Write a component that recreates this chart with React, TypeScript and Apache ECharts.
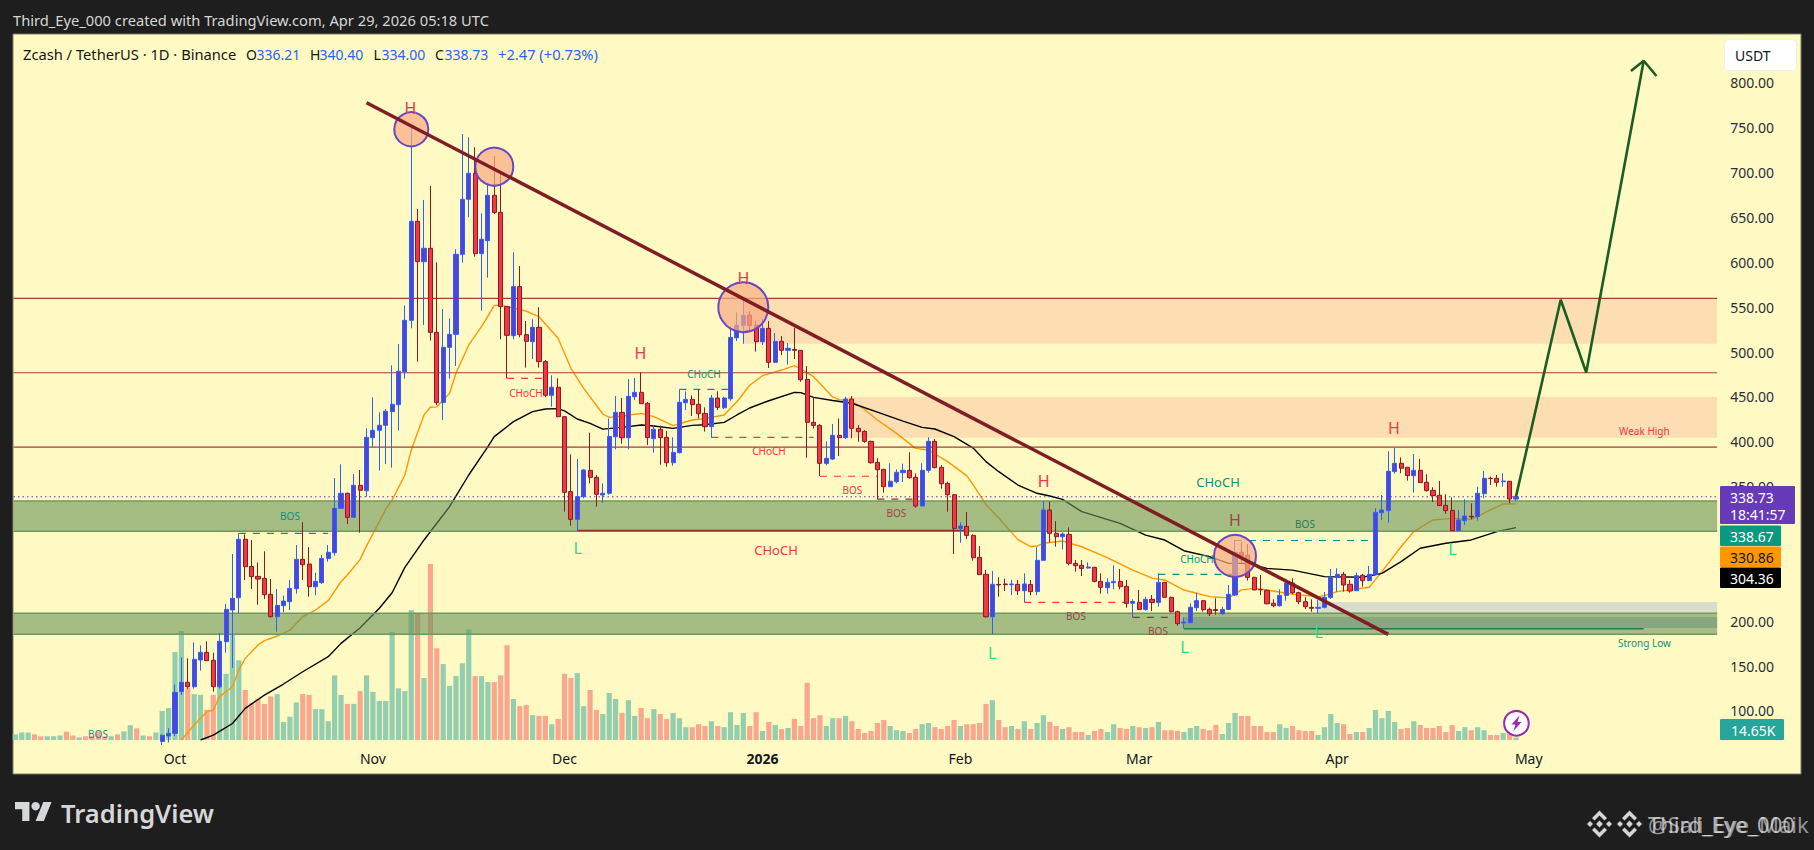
import React, { useEffect, useRef } from "react";
import * as echarts from "echarts";

// Bar numbering: bar 0 is 1 Oct 2025. The picture starts 25 bars earlier.
const FIRST_BAR = -25;
const LAST_SLOT = 241;
const CANDLE_FIRST_BAR = -2;

const openPrices = [
66,72,
75,121.5,131.9,127,156.8,165.3,156.4,127,177.2,212.5,
226.2,291.3,261,250,247.8,230,205,217.3,221.8,236.3,
269,263.8,238.5,243,270,276.4,325.8,342.6,315.8,351.5,
345.5,404.6,412.8,418.4,433.6,441.4,478.2,535.4,645.8,600.8,
615.7,522,443.7,505.3,519.8,609,670.3,699.3,609.8,624.2,
674.8,655.8,550.7,518.3,573,519.5,511.7,527.6,489.4,451.8,
460.8,428,344.5,313.6,338.9,368.2,360.4,340.7,342.6,405.7,
432.8,404.6,450.3,455.1,442.9,403.5,413.9,405,376.7,387.9,
443.6,447.3,441.8,431.7,416.9,448.8,438,448,516,529.8,
541,529.8,511.6,526.5,488.6,512,502,503,502,469.6,
421.7,418.3,376,380.8,407.2,404.6,447.7,415,411.6,400.5,
377,369.3,350,355.6,365.6,368.2,360.4,328.4,368.2,400.5,
371.5,353.7,341,303.5,305.8,295.7,271.2,252.3,205,241,
241.5,240.7,241.1,234,241,233,267.9,324,298,294.2,
296.8,264.5,262.3,259.3,260,244.4,237.4,243,244.4,238.9,
220,221,213.2,224.4,221,243.3,226.6,210.6,198,198.4,
215.1,222.9,213.2,213,208.4,213.2,229.2,276.8,273.4,248.9,
235.5,234.4,220,217.3,228.8,242.6,231.8,221.8,215.5,214.4,
215.5,226.3,248.6,252.3,241.2,234,251.2,245.2,251.9,321,
323.3,366.8,376,371.6,362.3,368.2,354.9,345.9,340.4,329.2,
323.6,301,312.1,317,316.6,342.2,359.3,359.3,355.6,356,
336.21,
];
const highPrices = [
74,80.6,
129.6,159.7,158.6,176.4,173,177.6,165,186.5,219.2,274.9,
298,296.8,290.5,265.6,278,247,235.9,228.5,245.9,285,
310.6,282.7,254,273.8,285,359.6,375,343.3,364,368.6,
415,449.6,432.9,436.6,485.3,509,552,751.3,659.5,669.6,
685.2,600,548,537.7,614.6,743.1,739.4,728.3,654.7,686.3,
718.6,701.2,550.7,611.2,596,534.7,536.6,549.9,491.2,474.1,
470.8,428.8,386,380.8,369.7,410.2,363,353.7,426,451,
448.8,470,471.1,477.4,444.4,418,418,412,405,458.5,
456.2,451.8,458.5,438.4,452.2,456.2,450.3,528.3,544.3,559.9,
545.4,534.3,536.9,534.6,521.3,517.9,510.1,527.2,502.3,484.5,
449.9,419.8,400.5,419.8,426,450.3,451,418.7,413,401.3,
381.6,370,376,369.3,375.6,388.3,364.8,376,405,403,
374,355.6,341.8,310.2,321.7,296.8,283.8,257,256,249,
247.4,246,246,253.4,246,282.4,334,333.3,311.5,299,
304.6,268.2,268.2,265.6,260.8,253.4,247.8,262.3,258.2,245.9,
224.4,234.8,227.3,229.2,253.4,244,227.3,211.7,204.3,220,
231.8,223.6,215.1,225.5,216.2,240.3,290.5,287.9,286,249.6,
251.5,235.5,224.4,235.5,246,247.8,232.9,226.6,224.4,223.6,
232.6,258.2,259,255,246,254.2,252.7,261.6,325.9,340.7,
389.4,393.5,382.7,371.6,386.4,380.9,363.8,349.3,356.4,341.5,
338.1,324,335.9,331.4,350,367.5,361.2,363,364.9,356.3,
340.4,
];
const lowPrices = [
62,65,
72,117.7,124.8,124.8,144.9,156,121.5,125,165,148,
208.8,246,235.9,218.4,224.8,204.3,188.3,210.3,212.5,230.7,
246,227.4,229,241.5,266.4,273,325.8,308.4,315,298.7,
338.8,393.9,367.9,375.3,371.2,412.5,470.4,526.5,489.4,530.2,
512.8,441,424.3,470.4,484.5,599.7,650.3,606.4,546.2,583,
654,514.3,470.8,514.3,516.5,482.7,492.3,482.7,449.6,439.2,
427.3,322.2,306.5,301,337,353.7,327.7,332,341,391.6,
397.9,391.6,446.6,442.5,396.4,387.9,374.5,372.3,373.4,387.1,
435.4,428.7,426.1,411.3,404.6,435.4,436.5,445.8,512.4,509.4,
523.1,500.5,507.9,482.3,487.8,496.7,486,492.3,467,382.3,
414.6,361.9,373.8,379.7,384.2,403,404,400.1,399,375.6,
335.9,343.3,350,353.7,355.2,358.9,326.6,328.4,365.6,370.4,
347.8,322.1,274.9,287.6,291.6,267.5,251.9,204,185.7,227.4,
233.7,229.2,229.2,221,229,229,267.9,287.6,283.1,280.1,
262.3,255.2,250.4,258.9,243.3,230.7,230.7,235.5,235.5,215.1,
204.3,212.5,211.7,211.4,216.2,226.6,209.9,195,192,198.4,
211.4,210.6,205.8,207.3,206.9,212.5,228.1,265.2,245.2,234.8,
229.2,218.8,215.5,216.2,222.9,230.3,219,213.6,210.6,208.8,
214.4,224.8,233,233,232,234,238.6,245.2,251.9,312.9,
309.9,364.5,364.9,356.7,343.3,354.5,344.5,332.9,328.9,319.6,
301,301,307.3,313.6,312.1,337,351.9,350,350,331.5,
334,
];
const closePrices = [
72.8,75,
120.7,131.9,127,157.5,165.3,156,127,177.6,213.2,225.5,
291.3,260.8,249.7,247,229.6,205,217.7,222.5,236.6,269,
263,238.5,244.4,270,276.8,325.8,342.6,315.8,351.5,346,
405,412.8,418.4,434,441.8,478.6,535.4,645.8,600.8,615.7,
522,443.7,505.3,519.8,609,670.3,699.3,609.8,625.7,674.8,
655.8,550.7,518.7,573,519.5,512,527.6,489.4,451.8,460.8,
428,343.7,313.6,338.9,368.6,360.4,341.5,342.6,406,432.8,
404.6,450.7,455.1,442.5,404.6,413.9,404.6,376.7,388.2,444,
447.3,441.4,431.3,416.9,448.8,438.4,448.8,516.4,529.8,541,
529.8,511.6,526.5,488.6,512,502,504.2,502,469.2,421.7,
418.3,376,381.6,407.2,404.6,447.7,415,411.3,400.5,376.7,
368.9,350,356,366,368.2,360,328.4,368.2,400.5,371.2,
353.3,341,303.5,306.1,295.7,270.8,251.9,205,241.1,240.4,
240.7,241.5,234,241.5,233,267.9,324,298,294.3,297.2,
264.5,261.9,258.9,260.4,244.4,237.8,243.3,244.4,238.5,219.9,
222,213.2,224.4,221,243.3,226.6,210.6,197.3,199,215.5,
222.9,212.9,208.4,212,213.2,230,276.8,272.7,248.9,234.8,
235,219.5,217.3,228.8,242.2,231.8,221.8,216.2,214.4,215.5,
226.6,249,252.3,240.4,233.7,250.8,245.2,252.3,321.4,324,
367.1,376,370.5,362.3,368.2,354.5,345.6,340,328.9,323.3,
301,312.9,317.3,316.2,342.6,359.3,359,354.9,356.3,336.21,
338.73,
];

// Volume bars from bar -25 to bar 210 (relative units, the axis is hidden)
const volumes = [
7.5,10,10,7.5,5,5,5,6,11,6,3.5,5,5,11,5,5,7.5,11.5,19.5,15.5,6,5,10,
38.6,42.5,
117,145,69,61,60,40,60,72,88,140,
106,66.5,49,55,48,58,61,24,31,50,
61,60,41,41,25,86,60,48,48,65,
86,64,52,52,143.6,68.7,65,173,168,82.5,
234,122,101,72,85,102,147,85,85,77,
77,86,126,54.5,45,46.5,33,32,32,21,
28,88,82.5,89,45,66.5,40,34.6,62.5,54.5,
36,53,32,42.5,29,41,34.6,28,36,29,
17,17,21,18.6,25,18.6,17,37,20,36,
18.6,37,12,24,20,14.6,16,28,18.6,76,
29,33,18.6,29,29,32,25,14.6,9.3,12,
22.6,26.6,18.6,13,12,9.3,14.6,21,22.6,17,
14.6,18.6,26.6,18.6,21,21,22.6,48,53,26.6,
17,18.6,14.6,25,14.6,22.6,33,24,18.6,14.6,
17,10.6,10.6,6.6,12,14.6,10.6,21,16,14.6,
18.6,17,16,17,24,13,13,12,10.6,16,
18.6,14.6,13,20,8,22.6,36,32,32,18.6,
18.6,10.6,10.6,21,16,18.6,13,12,12,6.6,
17,34.6,22.6,21,8,10.6,10.6,16,40,29,
38.6,24,14.6,16,25,20,16,16,18.6,10.6,
20,12,17,13,17,13,6.6,6.6,9.3,8,
3.3,
];
const earlyVolumeUp = [1,1,1,0,0,1,1,1,0,0,1,0,0,0,0,1,0,1,1,0,1,0,1];

const orangeBars = [1,3,5,6,7,9,10,11,13,14,16,18,20,22,24,26,27,29,30,32,33,34,36,37,39,40,41,43,44,46,48,50,51,55,57,60,62,64,67,68,70,73,75,78,81,83,86,88,90,92,95,97,98,100,103,104,106,108,110,113,116,118,121,124,125,127,129,132,134,135,136,139,142,146,150,153,155,158,162,165,167,169,171,175,179,180,182,187,189,192,194,197,200,203,206,208,210];
const orangeValues = [67.6,84.3,99,101,116,127,145.6,158.6,173.5,178.3,183.5,190,205,212.5,222.9,244,251.5,269,284,311,325,335,363,391,430,438.5,439,454,476.4,508,528.4,551.8,552.5,545.8,539.5,515.4,482,459.6,431,427.3,428.8,431.7,428,418,424.3,426,429.9,444.7,463,473.7,480,484.9,481,472.6,450,447,445,436,424.3,409.4,392.7,390.9,377.9,362,352,330,315,291,283.1,283.8,287,289.4,283,271,257,248,246,234.8,227.4,226,235,236.6,234.8,230,227.4,228.5,233,237.8,255.3,283,300,312.9,314.7,313.6,324,330.7,330.86];
const blackBars = [4,6,9,11,14,17,20,24,26,29,32,34,36,39,41,43,46,49,50,53,56,58,60,61,63,65,67,70,73,75,78,81,83,86,88,90,93,97,98,100,103,106,110,114,117,119,122,125,127,129,132,135,137,139,142,148,152,155,158,162,165,168,171,175,180,186,189,192,195,199,203,207,210];
const blackValues = [67.6,73,86,102.9,117.7,130,143.7,160.5,175.3,192.8,214.4,231.8,260,290.6,309.2,327.7,363,394.6,405.8,422.5,433.6,436.6,437,434.4,425.4,420.6,414.2,416.1,418.7,417.6,415,418.3,419,421.7,429.9,437.7,445.8,455.1,454.8,449.6,446,443,433,423,416.1,414.3,405.7,393,377.9,366.7,351.8,342.6,339.6,335.8,322.1,309.1,296,290.5,278.6,272,264.5,264.5,258.9,257,249.7,249,253.4,266.4,281.3,286.9,290.6,299.9,304.36];

// 250 and 300 sit wholly behind the price tags in the reference.
const priceTicks = [100,150,200,350,400,450,500,550,600,650,700,750,800];
const monthTickDates = ["2025-10-01","2025-11-01","2025-12-01","2026-01-01","2026-02-01","2026-03-01","2026-04-01","2026-05-01"];
const monthTickLabels = ["Oct","Nov","Dec","{y|2026}","Feb","Mar","Apr","May"];

const resistanceLevels = [560, 477, 394];
const chochLevel = [63, 124, 301];
const lastPrice = 338.73;
const greenZones = [[334, 300.3], [208.8, 185.4]];
const peachZones = [[89, 560, 509.4], [105, 450, 404.6]];
const strongLowBox = [158, 204.7, 192.5];
const greyBox = [179, 221.5, 208.8];
const trendLine = [[30, 778], [190, 185.4]];
const projectionPath = [[210, 339], [217, 558.4], [221, 477.3], [230, 824.8]];
const projectionHead = [[228, 813.4], [230, 824.8], [232, 807.8]];
const strongLowLine = [158, 230, 191.7];
const circles = [[37, 748.4, 34], [50, 706.7, 38], [89, 550, 50], [166, 272.7, 42]];
const redDashes = [[52, 58, 470.8], [84, 100, 405], [101, 110, 361.6], [133, 149, 221.1]];
const tealDashes = [[10, 24, 298], [79, 87, 458.5], [154, 166, 252.3], [166, 188, 290]];
const darkDashes = [[110, 116, 336], [150, 157, 204.4]];

const dayMs = 86400000;
const slotCount = LAST_SLOT - FIRST_BAR + 1;
const toSlot = (bar: number) => bar - FIRST_BAR;
const dates = Array.from({ length: slotCount }, (_, i) =>
  new Date(Date.UTC(2025, 9, 1) + (i + FIRST_BAR) * dayMs).toISOString().slice(0, 10));

const FONT = '"Noto Sans", sans-serif';
const RED = "#f23645";
const TEAL = "#0f8f7e";
const DARK = "#a04545";
const GREEN_LABEL = "#26e08a";
const PANE_LEFT = 13.5;

type Box = { from: number | null; top: number; bottom: number; fill: string };
type Lvl = { from: number | null; to: number | null; price: number; color: string; width: number; dash?: number[] };

const boxSeries = (name: string, z: number, boxes: Box[]) => ({
  type: "custom", name, z, silent: true, clip: true,
  data: boxes.map((b) => [toSlot(b.from ?? FIRST_BAR), b.top]),
  encode: { x: 0, y: 1 },
  renderItem: (p: any, api: any) => {
    const b = boxes[p.dataIndex];
    const cs = p.coordSys;
    const x0 = b.from == null ? PANE_LEFT : api.coord([toSlot(b.from), b.top])[0];
    const y0 = api.coord([0, b.top])[1];
    const y1 = api.coord([0, b.bottom])[1];
    return {
      type: "rect", shape: { x: x0, y: y0, width: cs.x + cs.width - x0, height: y1 - y0 },
      style: { fill: b.fill, stroke: "none", lineWidth: 0 },
    };
  },
});

function App() {
  const ref = useRef<HTMLDivElement>(null);
  useEffect(() => {
    if (!ref.current) return;
    const chart = echarts.init(ref.current, undefined, { renderer: "svg" });
    try {
      echarts.graphic.registerShape("tvLogo", echarts.graphic.extendPath("M14 22H7V11H0V4h14v18zM28 22h-8l7.5-18h8L28 22z", {}));
    } catch (e) { /* already registered */ }

    const candleRows = openPrices.map((o, i) => [toSlot(i + CANDLE_FIRST_BAR), o, closePrices[i], lowPrices[i], highPrices[i]]);
    const volumeData = volumes.map((v, i) => {
      const bar = i + FIRST_BAR;
      const up = bar < CANDLE_FIRST_BAR
        ? earlyVolumeUp[i] === 1
        : closePrices[bar - CANDLE_FIRST_BAR] >= openPrices[bar - CANDLE_FIRST_BAR];
      return { value: v, itemStyle: { color: up ? "#93ceae" : "#f9a88f" } };
    });

    const backBoxes: Box[] = [
      ...peachZones.map(([f, t, b]) => ({ from: f, top: t, bottom: b, fill: "#fcdeb2" })),
      { from: greyBox[0], top: greyBox[1], bottom: greyBox[2], fill: "#d8decb" },
    ];
    const frontBoxes: Box[] = [
      ...greenZones.map(([t, b]) => ({ from: null, top: t, bottom: b, fill: "rgba(105,147,88,0.6)" })),
      { from: strongLowBox[0], top: strongLowBox[1], bottom: strongLowBox[2], fill: "rgba(90,135,130,0.4)" },
    ];
    const levels: Lvl[] = [
      ...resistanceLevels.map((p) => ({ from: null, to: null, price: p, color: "#a33f3f", width: 1.2 })),
      ...greenZones.flat().map((p) => ({ from: null, to: null, price: p, color: "#6f9a5f", width: 1.5 })),
      { from: chochLevel[0], to: chochLevel[1], price: chochLevel[2], color: "#9b2c2c", width: 1.5 },
      { from: null, to: null, price: lastPrice, color: "#5e35d6", width: 1, dash: [1.5, 3] },
      { from: strongLowLine[0], to: strongLowLine[1], price: strongLowLine[2], color: "#1f7a5a", width: 1.5 },
      ...redDashes.map(([f, t, p]) => ({ from: f, to: t, price: p, color: RED, width: 1.2, dash: [7, 7] })),
      ...tealDashes.map(([f, t, p]) => ({ from: f, to: t, price: p, color: TEAL, width: 1.2, dash: [7, 7] })),
      ...darkDashes.map(([f, t, p]) => ({ from: f, to: t, price: p, color: "#8f3535", width: 1.2, dash: [7, 7] })),
    ];

    const txt = (x: number, y: number, text: string, font: string, fill: string, align = "left", z = 60) => ({
      type: "text", x, y, z, silent: true,
      style: { text, font, fill, textAlign: align, textVerticalAlign: "middle" },
    });
    const tag = (x: number, y: number, w: number, h: number, fill: string) => ({
      type: "rect", z: 55, silent: true, shape: { x, y, width: w, height: h, r: 1 }, style: { fill },
    });
    const diamond = (cx: number, cy: number, r: number, fill: string) => ({
      type: "polygon", z: 60, silent: true,
      shape: { points: [[cx - r, cy], [cx, cy - r], [cx + r, cy], [cx, cy + r]] }, style: { fill },
    });
    const chevron = (cx: number, cy: number, s: number, fill: string) => ({
      type: "polygon", z: 60, silent: true,
      shape: { points: [[cx - 7.5, cy + s * 7], [cx, cy - s * 0.5], [cx + 7.5, cy + s * 7], [cx + 5, cy + s * 9.5], [cx, cy + s * 4.5], [cx - 5, cy + s * 9.5]] },
      style: { fill },
    });
    const binance = (cx: number, cy: number) => {
      const c = "#d4d5d6";
      return [diamond(cx, cy, 3.4, c), diamond(cx - 9.5, cy, 3, c), diamond(cx + 9.5, cy, 3, c),
        chevron(cx, cy - 13, 1, c), chevron(cx, cy + 13, -1, c)];
    };

    const small = `10px ${FONT}`;
    const big = `16px ${FONT}`;
    const head = `14.7px ${FONT}`;
    const graphics: any[] = [
      { type: "rect", z: -10, silent: true, shape: { x: 13, y: 34, width: 1788, height: 740 }, style: { fill: "#fff9c4", stroke: "#7c7b62", lineWidth: 1 } },
      txt(13, 20, "Third_Eye_000 created with TradingView.com, Apr 29, 2026 05:18 UTC", head, "#d6d6d6"),
      txt(23, 54, "Zcash / TetherUS · 1D · Binance", head, "#131722"),
      txt(246, 54, "O", `14px ${FONT}`, "#131722"), txt(256.5, 54, "336.21", `14px ${FONT}`, "#2962ff"),
      txt(310, 54, "H", `14px ${FONT}`, "#131722"), txt(319.5, 54, "340.40", `14px ${FONT}`, "#2962ff"),
      txt(373.5, 54, "L", `14px ${FONT}`, "#131722"), txt(381.5, 54, "334.00", `14px ${FONT}`, "#2962ff"),
      txt(435, 54, "C", `14px ${FONT}`, "#131722"), txt(444.5, 54, "338.73", `14px ${FONT}`, "#2962ff"),
      txt(498, 54, "+2.47 (+0.73%)", head, "#2962ff"),

      { type: "rect", z: 55, silent: true, shape: { x: 1724.5, y: 39.5, width: 72, height: 31, r: 4 }, style: { fill: "#ffffff", stroke: "#f0f0e8" } },
      txt(1735, 55, "USDT", `14px ${FONT}`, "#131722"),

      tag(1720, 486, 75, 38, "#673ab7"),
      txt(1730, 497, "338.73", `14px ${FONT}`, "#ffffff"), txt(1730, 514, "18:41:57", `14px ${FONT}`, "#ffffff"),
      tag(1720, 525.5, 61, 20.5, "#089981"), txt(1730, 536, "338.67", `14px ${FONT}`, "#ffffff"),
      tag(1720, 546.5, 61, 20.5, "#ff9800"), txt(1730, 557, "330.86", `14px ${FONT}`, "#131722"),
      tag(1720, 567.5, 61, 20.5, "#000000"), txt(1730, 578, "304.36", `14px ${FONT}`, "#ffffff"),
      tag(1720, 719, 64, 21, "#26a69a"), txt(1731, 730, "14.65K", `14px ${FONT}`, "#ffffff"),

      { type: "circle", z: 58, silent: true, shape: { cx: 1516.4, cy: 723.3, r: 12.3 }, style: { fill: "#ffffff", stroke: "#9c27b0", lineWidth: 2 } },
      { type: "polygon", z: 59, silent: true, shape: { points: [[1519.5, 715.5], [1511.5, 724.5], [1515.5, 724.5], [1513.5, 731], [1521.5, 722], [1517.5, 722]] }, style: { fill: "#9c27b0" } },

      txt(410.4, 108, "H", big, RED, "center"), txt(743.5, 278.3, "H", big, RED, "center"),
      txt(640.3, 352.7, "H", big, RED, "center"), txt(1043.7, 481.3, "H", big, RED, "center"),
      txt(1235, 520, "H", big, DARK, "center"), txt(1394, 427.7, "H", big, RED, "center"),
      txt(577.7, 547.7, "L", big, GREEN_LABEL, "center"), txt(992.3, 652.7, "L", big, GREEN_LABEL, "center"),
      txt(1184.4, 646.7, "L", big, GREEN_LABEL, "center"), txt(1318.6, 631.7, "L", big, GREEN_LABEL, "center"),
      txt(1452.5, 549, "L", big, GREEN_LABEL, "center"),

      txt(290, 516, "BOS", small, TEAL, "center"), txt(98, 734, "BOS", small, TEAL, "center"),
      txt(526, 393, "CHoCH", small, RED, "center"), txt(704, 374.3, "CHoCH", small, TEAL, "center"),
      txt(769, 451, "CHoCH", small, RED, "center"), txt(852.3, 490, "BOS", small, RED, "center"),
      txt(896.3, 513, "BOS", small, DARK, "center"), txt(776, 550, "CHoCH", `13px ${FONT}`, RED, "center"),
      txt(1076, 616, "BOS", small, DARK, "center"), txt(1158, 630.7, "BOS", small, DARK, "center"),
      txt(1197, 559, "CHoCH", small, TEAL, "center"), txt(1305, 524, "BOS", small, "#2c7a56", "center"),
      txt(1218, 482, "CHoCH", `13px ${FONT}`, TEAL, "center"),
      txt(1644.4, 430.7, "Weak High", small, RED, "center"), txt(1644.4, 643, "Strong Low", small, TEAL, "center"),

      { type: "tvLogo", z: 60, silent: true, x: 15, y: 797.7, scaleX: 1.03, scaleY: 1.06, style: { fill: "#d6d7d8" } },
      { type: "circle", z: 60, silent: true, shape: { cx: 35.6, cy: 806.2, r: 4.2 }, style: { fill: "#d6d7d8" } },
      txt(61, 812.5, "TradingView", `600 25.5px ${FONT}`, "#d6d7d8"),

      ...binance(1599.5, 824), ...binance(1629.5, 824),
      txt(1648, 824, "Third_Eye_000", `22px ${FONT}`, "rgba(225,225,225,0.75)"),
      txt(1648, 824, "@Sali_Eye_Maik", `22px ${FONT}`, "rgba(225,225,225,0.6)"),
    ];

    chart.setOption({
      animation: false,
      backgroundColor: "#1e1e1e",
      textStyle: { fontFamily: FONT },
      graphic: { elements: graphics },
      grid: { left: 12.15, top: 34, width: 1705, height: 706, containLabel: false },
      xAxis: {
        type: "category", data: dates, boundaryGap: true,
        axisLine: { show: false }, axisTick: { show: false }, splitLine: { show: false },
        axisLabel: {
          margin: 11, fontSize: 14, color: "#131722", hideOverlap: false,
          interval: (_: number, v: string) => monthTickDates.includes(v),
          formatter: (v: string) => monthTickLabels[monthTickDates.indexOf(v)] ?? "",
          rich: { y: { fontSize: 14, fontWeight: "bold", color: "#131722" } },
        },
      },
      yAxis: [
        {
          type: "value", position: "right", min: 67.6, max: 854.6, scale: true,
          axisLine: { show: false }, axisTick: { show: false }, splitLine: { show: false },
          axisLabel: { customValues: priceTicks, margin: 13, fontSize: 14, color: "#2a2e39", formatter: (v: number) => v.toFixed(2) },
        },
        { type: "value", show: false, min: 0, max: 939, splitLine: { show: false } },
      ],
      series: [
        { type: "bar", name: "Volume", yAxisIndex: 1, z: 1, barWidth: 5.2, data: volumeData, silent: true },
        boxSeries("Back zones", 1, backBoxes),
        {
          type: "line", name: "EMA fast", z: 2, symbol: "none", silent: true,
          lineStyle: { color: "#ff9800", width: 1.4 },
          data: orangeBars.map((b, i) => [toSlot(b), orangeValues[i]]),
        },
        {
          type: "line", name: "EMA slow", z: 2, symbol: "none", silent: true,
          lineStyle: { color: "#000000", width: 1.4 },
          data: blackBars.map((b, i) => [toSlot(b), blackValues[i]]),
        },
        boxSeries("Front zones", 3, frontBoxes),
        {
          type: "custom", name: "Levels", z: 3, silent: true, clip: true,
          data: levels.map((l) => [toSlot(l.from ?? FIRST_BAR), l.price]),
          encode: { x: 0, y: 1 },
          renderItem: (p: any, api: any) => {
            const l = levels[p.dataIndex];
            const cs = p.coordSys;
            const y = api.coord([0, l.price])[1];
            const x0 = l.from == null ? PANE_LEFT : api.coord([toSlot(l.from), l.price])[0];
            const x1 = l.to == null ? cs.x + cs.width : api.coord([toSlot(l.to), l.price])[0];
            return {
              type: "line", shape: { x1: x0, y1: y, x2: x1, y2: y },
              style: { stroke: l.color, lineWidth: l.width, lineDash: l.dash ?? null, fill: "none" },
            };
          },
        },
        {
          type: "candlestick", name: "ZECUSDT", z: 4, silent: true, barWidth: 4.6, clip: true,
          encode: { x: 0, y: [1, 2, 3, 4] },
          data: candleRows,
          itemStyle: { color: "#4f44d6", color0: RED, borderColor: "#2962ff", borderColor0: "#8b1a22", borderWidth: 1 },
        },
        {
          type: "scatter", name: "Circles", z: 5, silent: true,
          data: circles.map(([b, p, s]) => ({ value: [toSlot(b), p], symbolSize: s })),
          symbol: "circle",
          itemStyle: { color: "rgba(247,170,130,0.72)", borderColor: "#6a46c4", borderWidth: 2, opacity: 1 },
        },
        {
          type: "line", name: "Trend", z: 6, symbol: "none", silent: true,
          lineStyle: { color: "#7f1d25", width: 3.5 },
          data: trendLine.map(([b, p]) => [toSlot(b), p]),
        },
        {
          type: "line", name: "Projection", z: 6, symbol: "none", silent: true,
          lineStyle: { color: "#1b5e20", width: 2.6 },
          data: projectionPath.map(([b, p]) => [toSlot(b), p]),
        },
        {
          type: "line", name: "Projection head", z: 6, symbol: "none", silent: true,
          lineStyle: { color: "#1b5e20", width: 2.6 },
          data: projectionHead.map(([b, p]) => [toSlot(b), p]),
        },
      ],
    });
    return () => chart.dispose();
  }, []);
  return <div ref={ref} style={{ position: "fixed", left: 0, top: 0, width: 1814, height: 850 }} />;
}

export default App;
